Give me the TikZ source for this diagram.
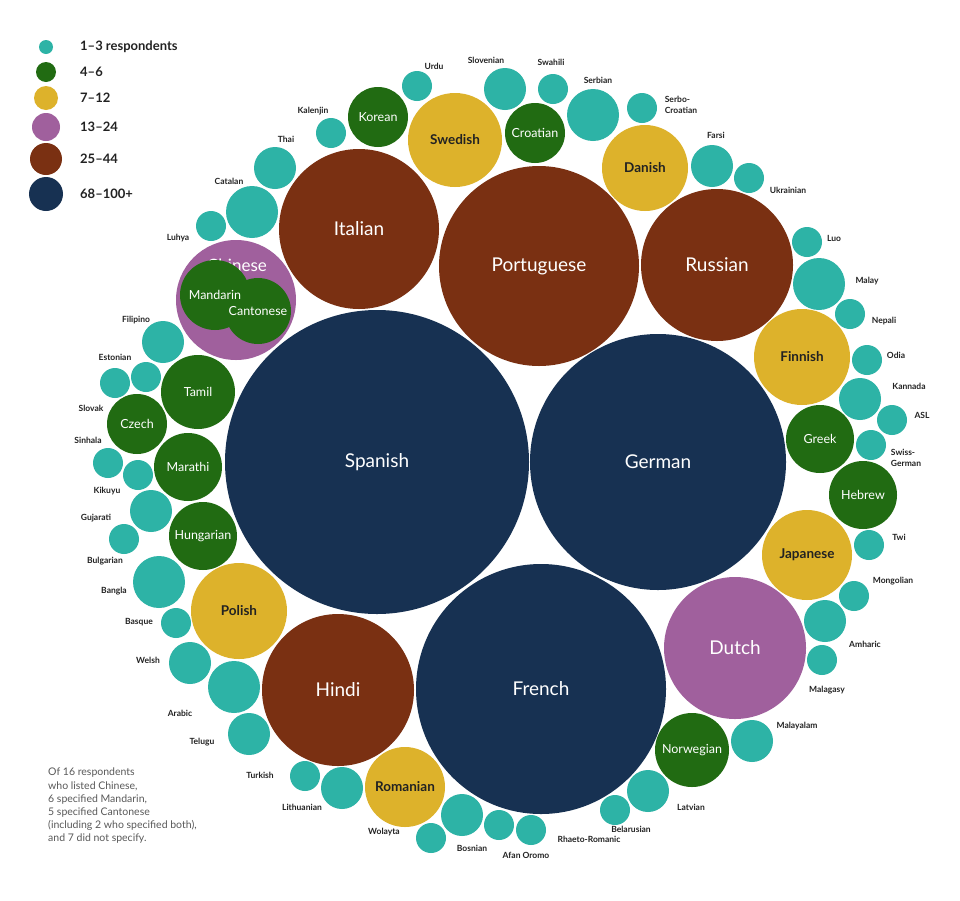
\documentclass[tikz,border=0pt]{standalone}
\usepackage{fontspec}
\setmainfont{Lato}
\definecolor{cnavy}{HTML}{173152}
\definecolor{cbrown}{HTML}{7A3012}
\definecolor{cpurple}{HTML}{A0609D}
\definecolor{cyellow}{HTML}{DDB22B}
\definecolor{cgreen}{HTML}{216B12}
\definecolor{cteal}{HTML}{2DB3A6}
\definecolor{ctext}{HTML}{222222}
\tikzset{
 bub/.style={circle,inner sep=0pt,minimum size=#1},
 big/.style={text=white,font=\fontsize{19}{21}\selectfont},
 mid/.style={text=white,font=\fontsize{17}{19}\selectfont},
 yel/.style={text=ctext,font=\bfseries\fontsize{13.5}{15}\selectfont},
 grn/.style={text=white,font=\fontsize{12.5}{14}\selectfont},
 lab/.style={text=ctext,font=\bfseries\fontsize{8.5}{10.5}\selectfont,align=left,inner sep=0pt},
 leg/.style={text=ctext,font=\bfseries\fontsize{13}{15}\selectfont,anchor=west,inner sep=0pt},
}
\begin{document}
\begin{tikzpicture}[x=1pt,y=-1pt]
\path[use as bounding box,fill=white] (0,0) rectangle (960,900);
% big bubbles
\foreach \n/\x/\y/\r/\c/\s in {Spanish/377/462/152/cnavy/big,German/658/462/128/cnavy/big,French/541/689/125/cnavy/big,
 Portuguese/539/266/100/cbrown/big,Italian/359/229/80/cbrown/big,Russian/717/265/76/cbrown/big,Hindi/338/690/76/cbrown/big,
 Dutch/735/648/71/cpurple/big,
 Swedish/455/140/47/cyellow/yel,Danish/645/168/43/cyellow/yel,Finnish/802/357/48/cyellow/yel,Japanese/807/555/45/cyellow/yel,Polish/239/611/48/cyellow/yel,Romanian/405/787/40/cyellow/yel,
 Korean/378/117/30/cgreen/grn,Croatian/535/133/30/cgreen/grn,Tamil/198/392/37/cgreen/grn,Czech/137/424/30/cgreen/grn,Marathi/188/467/34/cgreen/grn,Hungarian/203/536/34/cgreen/grn,Greek/820/439/34/cgreen/grn,Hebrew/863/495/34/cgreen/grn,Norwegian/692/750/37/cgreen/grn}
 \node[bub=2*\r pt,fill=\c,\s] (\n) at (\x,\y) {\n};
\node[bub=120pt,fill=cpurple] (Chinese) at (236,300) {};
\node[mid,inner sep=0pt] (Chinese-l) at (237,265) {Chinese};
\node[bub=70pt,fill=cgreen] (Mandarin) at (215,295) {};
\node[bub=66pt,fill=cgreen] (Cantonese) at (258,311) {};
\node[grn,inner sep=0pt] (Mandarin-l) at (215,295) {Mandarin};
\node[grn,inner sep=0pt] (Cantonese-l) at (258,311) {Cantonese};
% small teal bubbles
\foreach \n/\x/\y/\r in {Urdu/417/86/15,Slovenian/505/89/21,Swahili/553/89/15,Serbian/593/115/26,SerboCroatian/642/108/15,Farsi/712/166/21,Ukrainian/749/178/15,
 Kalenjin/331/133/15,Thai/275/168/21,Catalan/252/212/26,Luhya/211/226/15,Luo/807/242/15,Malay/819/284/26,Nepali/850/314/15,Odia/867/360/15,Kannada/860/399/21,ASL/892/420/15,SwissGerman/871/445/15,
 Twi/869/545/15,Mongolian/854/596/15,Amharic/825/621/21,Malagasy/822/660/15,Malayalam/752/741/21,Latvian/648/791/21,Belarusian/615/810/15,RhaetoRomanic/531/830/15,AfanOromo/499/825/15,
 Bosnian/462/815/21,Wolayta/431/838/15,Lithuanian/342/788/21,Turkish/305/776/15,Telugu/249/734/21,Arabic/234/687/26,Welsh/190/663/21,Basque/176/623/15,Bangla/159/582/26,Bulgarian/124/539/15,
 Gujarati/151/511/21,Kikuyu/138/475/15,Sinhala/108/463/15,Estonian/115/383/15,Slovak/146/377/15,Filipino/163/342/21}
 \node[bub=2*\r pt,fill=cteal] (\n) at (\x,\y) {};
\foreach \n/\x/\y/\t in {Urdu/434/66/Urdu,Slovenian/486/60/Slovenian,Swahili/551/62/Swahili,Serbian/598/80/Serbian,SerboCroatian/681/105/{Serbo-\\Croatian},Farsi/716/135/Farsi,Ukrainian/788/190/Ukrainian,
 Kalenjin/313/111/Kalenjin,Thai/286/139/Thai,Catalan/229/181/Catalan,Luhya/178/238/Luhya,Luo/834/238/Luo,Malay/867/281/Malay,Nepali/884/321/Nepali,Odia/896/355/Odia,Kannada/909/386/Kannada,ASL/922/415/ASL,SwissGerman/906/458/{Swiss-\\German},
 Twi/899/537/Twi,Mongolian/893/581/Mongolian,Amharic/865/644/Amharic,Malagasy/827/690/Malagasy,Malayalam/797/726/Malayalam,Latvian/691/807/Latvian,Belarusian/631/829/Belarusian,RhaetoRomanic/589/839/Rhaeto-Romanic,AfanOromo/526/855/Afan Oromo,
 Bosnian/472/848/Bosnian,Wolayta/384/832/Wolayta,Lithuanian/302/807/Lithuanian,Turkish/260/775/Turkish,Telugu/202/742/Telugu,Arabic/180/713/Arabic,Welsh/148/660/Welsh,Basque/139/622/Basque,Bangla/114/591/Bangla,Bulgarian/105/561/Bulgarian,
 Gujarati/96/518/Gujarati,Kikuyu/107/491/Kikuyu,Sinhala/88/440/Sinhala,Estonian/115/357/Estonian,Slovak/91/408/Slovak,Filipino/136/320/Filipino}
 \node[lab,align=left] (\n-l) at (\x,\y) {\t};
% legend
\foreach \i/\y/\r/\c/\t in {1/47/7/cteal/1–3 respondents,2/72/10/cgreen/4–6,3/98/12/cyellow/7–12,4/127/14/cpurple/13–24,5/159/16/cbrown/25–44,6/194/17/cnavy/68–100+}{
 \node[bub=2*\r pt,fill=\c] (leg\i) at (46,\y) {};
 \node[leg] (leg\i-l) at (80,\y) {\t};
}
\node[anchor=north west,align=left,inner sep=0pt,text=black!65,font=\fontsize{10.5}{13.2}\selectfont] (note) at (48,768)
 {Of 16 respondents\\who listed Chinese,\\6 specified Mandarin,\\5 specified Cantonese\\(including 2 who specified both),\\and 7 did not specify.};
\end{tikzpicture}
\end{document}
